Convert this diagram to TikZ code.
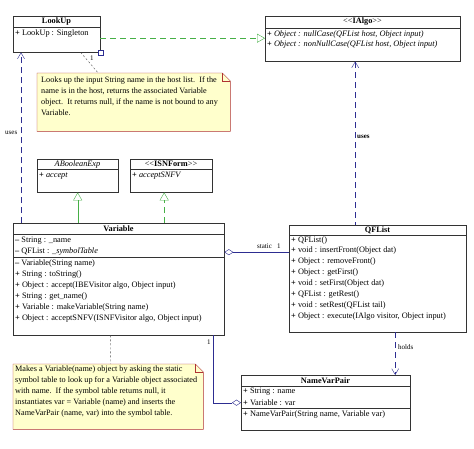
\documentclass[tikz,border=0pt]{standalone}
\usepackage{fontspec}
\setmainfont{Liberation Serif}
\usepackage{tikz}
\usetikzlibrary{arrows.meta}
\usetikzlibrary{shapes}
\definecolor{umlgreen}{RGB}{70,175,70}
\definecolor{umlblue}{RGB}{45,45,145}
\definecolor{notered}{RGB}{175,50,50}
\definecolor{noteyellow}{RGB}{255,255,204}
\newcommand{\pubm}{\textbf{+}\ }
\newcommand{\privm}{\textbf{--}\ }
\tikzset{
  class node/.style={rectangle,draw=black!80,fill=white,anchor=north west,inner sep=0pt},
  title node/.style={inner sep=0pt,font=\fontsize{8.3}{10}\selectfont\bfseries},
  row node/.style={anchor=west,inner sep=0pt,font=\fontsize{8.3}{10}\selectfont},
  note node/.style={anchor=north west,inner sep=0pt},
  note text/.style={anchor=north west,inner sep=0pt,align=left,font=\fontsize{8.2}{11}\selectfont},
  uses line/.style={draw=umlblue,dash pattern=on 6pt off 4pt,-{Straight Barb[length=6pt,width=7pt]}},
  gen line/.style={draw=umlgreen,-{Triangle[open,length=8pt,width=9pt]}},
  link line/.style={draw=black!70,dash pattern=on 2pt off 2pt}
}

\begin{document}
\begin{tikzpicture}[x=1pt,y=-1pt]
\useasboundingbox (0,0) rectangle (474,448);
		    % class boxes
		    \node[class node,minimum width=87pt,minimum height=36pt] (1) at (13,16) {};
		    \node[class node,minimum width=195pt,minimum height=45pt] (2) at (265,16) {};
		    \node[class node,minimum width=81pt,minimum height=33pt] (3) at (37,159) {};
		    \node[class node,minimum width=82pt,minimum height=33pt] (4) at (130,159) {};
		    \node[class node,minimum width=211pt,minimum height=112pt] (5) at (13,223) {};
		    \node[class node,minimum width=177pt,minimum height=107pt] (6) at (289,225) {};
		    \node[class node,minimum width=169pt,minimum height=55pt] (7) at (241,375) {};
		    \foreach \n/\d in {1/11,2/12,3/10,4/10,5/11,5/34,6/10,7/11,7/33}
		      \draw[black!80] ([yshift=-\d pt]\n.north west) -- ([yshift=-\d pt]\n.north east);
		    % titles
		    \node[title node] (1-0) at (56.5,21.5) {LookUp};
		    \node[title node] (2-0) at (362.5,22) {\mdseries{<}{<}\bfseries IAlgo\mdseries{>}{>}};
		    \node[title node] (3-0) at (77.5,164) {\mdseries\itshape ABooleanExp};
		    \node[title node] (4-0) at (171,164) {\mdseries{<}{<}\bfseries ISNForm\mdseries{>}{>}};
		    \node[title node] (5-0) at (118.5,228.5) {Variable};
		    \node[title node] (6-0) at (377.5,230) {QFList};
		    \node[title node] (7-0) at (325.5,380.5) {NameVarPair};
		    % members
		    \node[row node] (1-1) at (15,34) {\pubm LookUp : Singleton};
		    \node[row node] (2-1) at (267,34) {\pubm\textit{Object : nullCase(QFList host, Object input)}};
		    \node[row node] (2-2) at (267,44) {\pubm\textit{Object : nonNullCase(QFList host, Object input)}};
		    \node[row node] (3-1) at (39,176) {\pubm\textit{accept}};
		    \node[row node] (4-1) at (132,176) {\pubm\textit{acceptSNFV}};
		    \node[row node] (5-1) at (15,240.5) {\privm String : \_name};
		    \node[row node] (5-2) at (15,251.5) {\privm QFList : \textit{\_symbolTable}};
		    \foreach \t [count=\i from 3] in {\privm Variable(String name),\pubm String : toString(),
		        {\pubm Object : accept(IBEVisitor algo, Object input)},\pubm String : get\_name(),
		        \pubm Variable : makeVariable(String name),
		        {\pubm Object : acceptSNFV(ISNFVisitor algo, Object input)}}
		      \node[row node] (5-\i) at (15,{263.5+11*(\i-3)}) {\t};
		    \foreach \t [count=\i] in {\pubm QFList(),\pubm void : insertFront(Object dat),
		        \pubm Object : removeFront(),\pubm Object : getFirst(),\pubm void : setFirst(Object dat),
		        \pubm QFList : getRest(),\pubm void : setRest(QFList tail),
		        {\pubm Object : execute(IAlgo visitor, Object input)}}
		      \node[row node] (6-\i) at (291,{240+10.9*(\i-1)}) {\t};
		    \node[row node] (7-1) at (243,392) {\pubm String : name};
		    \node[row node] (7-2) at (243,402.5) {\pubm Variable : var};
		    \node[row node] (7-3) at (243,415) {\pubm NameVarPair(String name, Variable var)};
		    % notes
		    \node[note node,minimum width=193pt,minimum height=58pt] (8) at (37,73) {};
		    \node[note node,minimum width=190pt,minimum height=65pt] (9) at (13,364) {};
		    \foreach \n in {8,9} {
		      \draw[notered,fill=noteyellow] (\n.south west) -- (\n.south east) -- ([yshift=-8pt]\n.north east)
		        -- ([xshift=-8pt]\n.north east) -- (\n.north west) -- cycle;
		      \draw[notered] ([xshift=-8pt]\n.north east) -- ([xshift=-8pt,yshift=-8pt]\n.north east)
		        -- ([yshift=-8pt]\n.north east);
		    }
		    \node[note text] (8-1) at (41,76.5) {Looks up the input String name in the host list.\ \ If the\\
		      name is in the host, returns the associated Variable\\
		      object.\ \ It returns null, if the name is not bound to any\\ Variable.};
		    \node[note text] (9-1) at (15,366) {Makes a Variable(name) object by asking the static\\
		      symbol table to look up for a Variable object associated\\
		      with name.\ \ If the symbol table returns null, it\\
		      instantiates var = Variable (name) and inserts the\\
		      NameVarPair (name, var) into the symbol table.};
		    \draw[link line] ([xshift=24pt]1.south) -- ([xshift=-35.5pt]8.north);
		    \draw[link line] ([xshift=-8pt]5.south) -- ([xshift=2pt]9.north);
		    % connectors
		    \coordinate (1-a) at ([xshift=8pt]1.south west);
		    \coordinate (2-a) at ([xshift=-7.5pt]2.south);
		    \coordinate (4-a) at ([xshift=-7pt]4.south);
		    \coordinate (5-a) at ([yshift=27pt]5.east);
		    \coordinate (6-a) at ([xshift=17.5pt]6.south);
		    \coordinate (1-b) at ([yshift=-4pt]1.east);
		    \draw[gen line,dash pattern=on 6pt off 4pt] (1-b) -- (1-b -| 2.west);
		    \draw[gen line] (5.north -| 3.south) -- (3.south);
		    \draw[gen line,dash pattern=on 6pt off 4pt] (5.north -| 4-a) -- (4-a);
		    \draw[uses line] (5.north -| 1-a) -- (1-a);
		    \draw[uses line,{Straight Barb[length=6pt,width=7pt]}-] (2-a) -- (6.north -| 2-a);
		    \draw[uses line] (6-a) -- (7.north -| 6-a);
		    \draw[umlblue,{Diamond[open,length=9pt,width=6pt]}-] (5-a) -- (5-a -| 6.west);
		    \draw[umlblue,-{Diamond[open,length=9pt,width=6pt]}] ([xshift=-11pt]5.south east) |- (7.west);
		    \node[draw=umlblue,fill=white,minimum size=5pt,inner sep=0pt] (1-s) at (1.south east) {};
		    % labels
		    \node[row node,font=\fontsize{7}{8}\selectfont] (1-m) at (90,58) {1};
		    \node[row node,font=\fontsize{7}{8}\selectfont] (u-1) at (5,133) {uses};
		    \node[row node,font=\fontsize{7}{8}\selectfont\bfseries] (u-2) at (357,137) {uses};
		    \node[row node,font=\fontsize{7}{8}\selectfont] (s-1) at (257,246.5) {static\ \ \ 1};
		    \node[row node,font=\fontsize{7}{8}\selectfont] (h-1) at (398,347) {holds};
		    \node[row node,font=\fontsize{7}{8}\selectfont] (v-1) at (207,342) {1};
		  \end{tikzpicture}
\end{document}
